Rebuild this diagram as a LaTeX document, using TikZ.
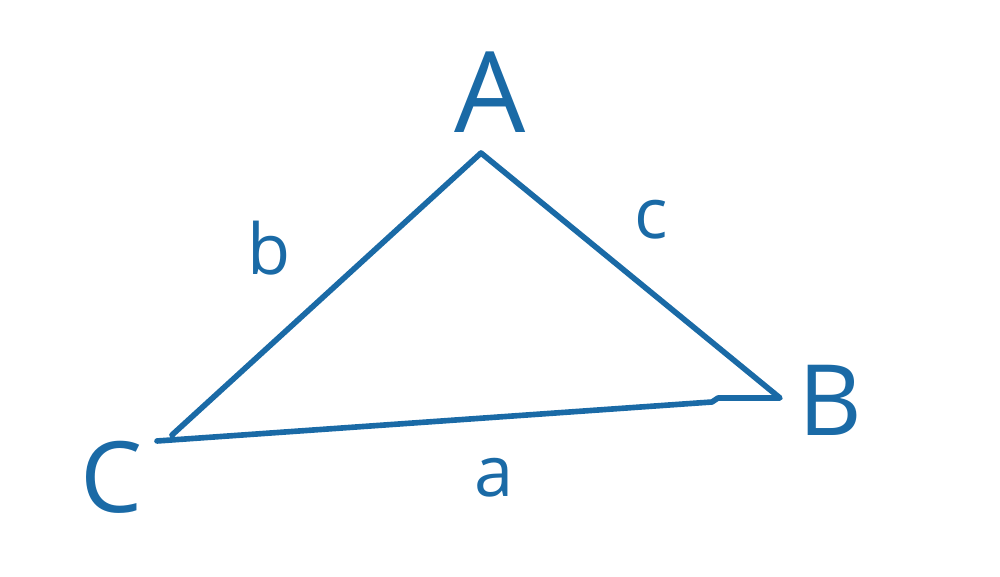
\documentclass[tikz,border=0pt]{standalone}
\usepackage{fontspec}
\setmainfont{Open Sans}
\definecolor{ink}{HTML}{1A6AA6}
\begin{document}
\begin{tikzpicture}[x=0.01cm,y=-0.01cm,
  edge/.style={draw=ink,line width=1.6pt,line cap=round,line join=round},
  lbl/.style={text=ink,font=\fontsize{28}{32}\selectfont},
  sml/.style={text=ink,font=\fontsize{20}{24}\selectfont}]
\useasboundingbox (0,0) rectangle (1000,577);
\coordinate (A) at (481,153);
\coordinate (B) at (780,398);
\coordinate (Cs) at (172,435);
\coordinate (Cb) at (157,441);
\coordinate (Bb) at (712,402);
\coordinate (Bh) at (718,398);
\draw[edge] (Cs) -- (A) -- (B) -- (Bh) -- (Bb) -- (Cb);
\node[lbl,font=\fontsize{32}{36}\selectfont] (la) at (490,92) {A};
\node[lbl] (lb) at (830,400) {B};
\node[lbl] (lc) at (112,477) {C};
\node[sml] (sb) at (269,248) {b};
\node[sml] (sc) at (651,220) {c};
\node[sml] (sa) at (494,478) {a};
\end{tikzpicture}
\end{document}
